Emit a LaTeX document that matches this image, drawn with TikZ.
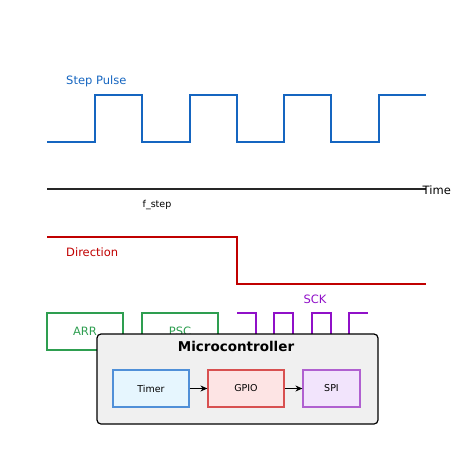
\documentclass[tikz,border=0pt]{standalone}
\usepackage{fontspec}
\setmainfont{DejaVu Sans}
\usepackage{xcolor}
\usetikzlibrary{positioning,calc,arrows.meta}

\definecolor{stepblue}{HTML}{1565C0}
\definecolor{dirred}{HTML}{C00000}
\definecolor{regreen}{HTML}{2E9E50}
\definecolor{sckpurple}{HTML}{9010C8}
\definecolor{mcugray}{HTML}{F0F0F0}
\definecolor{timerfill}{HTML}{E6F6FE}
\definecolor{timerdraw}{HTML}{5090D8}
\definecolor{gpiofill}{HTML}{FDE4E4}
\definecolor{gpiodraw}{HTML}{D85050}
\definecolor{spifill}{HTML}{F2E4FC}
\definecolor{spidraw}{HTML}{B060D0}

\tikzset{
  wave/.style={line width=1.6pt},
  lbl/.style={font=\fontsize{11.5}{13}\selectfont, inner sep=0pt},
  regbox/.style={draw=regreen, line width=1.2pt, minimum width=76pt, minimum height=37pt, inner sep=0pt,
    text=regreen, font=\fontsize{11.5}{13}\selectfont},
  unitbox/.style={line width=1.2pt, minimum height=37pt, inner sep=0pt, font=\fontsize{9.5}{11}\selectfont},
  link/.style={-{Stealth[length=7pt,width=6pt]}, line width=0.9pt}
}

\begin{document}
\begin{tikzpicture}[x=1pt, y=-1pt]
            \useasboundingbox (0,0) rectangle (474,474);

            % Step pulse
            \draw[wave, stepblue] (47,142) -- (95,142) -- (95,95) -- (142,95) -- (142,142) -- (190,142) -- (190,95)
              -- (237,95) -- (237,142) -- (284,142) -- (284,95) -- (331,95) -- (331,142) -- (379,142) -- (379,95) -- (426,95);
            \node[lbl, anchor=west, text=stepblue] (steplbl) at (66,81) {Step Pulse};

            % Time axis
            \coordinate (t0) at (47,189);
            \coordinate (t1) at (426,189);
            \draw[line width=1.3pt, black!85] (t0) -- (t1);
            \node[lbl, anchor=west] (time) at (422.5,190) {Time};
            \node[font=\fontsize{9.5}{11}\selectfont, inner sep=0pt] (fstep) at (157,205) {f\_step};

            % Direction
            \draw[wave, dirred] (47,237) -- (237,237) -- (237,284) -- (426,284);
            \node[lbl, anchor=west, text=dirred] (dirlbl) at (66,252) {Direction};

            % SCK (low level hidden behind the MCU)
            \draw[wave, sckpurple] (237,313) -- (256,313) -- (256,350) -- (274,350) -- (274,313) -- (293,313) -- (293,350)
              -- (312,350) -- (312,313) -- (331,313) -- (331,350) -- (349,350) -- (349,313) -- (368,313);
            \node[lbl, text=sckpurple] (scklbl) at (315,299) {SCK};

            % Timer registers
            \node[regbox] (arr) at (85,331.5) {ARR};
            \node[regbox] (psc) at (180,331.5) {PSC};

            % Microcontroller
            \node[draw=black, fill=mcugray, line width=1.2pt, rounded corners=4pt, minimum width=281pt, minimum height=90pt,
              inner sep=0pt] (mcu) at (237.5,379) {};
            \node[font=\fontsize{13.5}{15}\selectfont\bfseries, inner sep=0pt] (mcutitle) at (236,346) {Microcontroller};

            \node[unitbox, draw=timerdraw, fill=timerfill, minimum width=76pt] (timer) at (151,388.5) {Timer};
            \node[unitbox, draw=gpiodraw, fill=gpiofill, minimum width=76pt] (gpio) at (246,388.5) {GPIO};
            \node[unitbox, draw=spidraw, fill=spifill, minimum width=57pt] (spi) at (331.5,388.5) {SPI};

            \draw[link] (timer) -- (gpio);
            \draw[link] (gpio) -- (spi);
\end{tikzpicture}
\end{document}
